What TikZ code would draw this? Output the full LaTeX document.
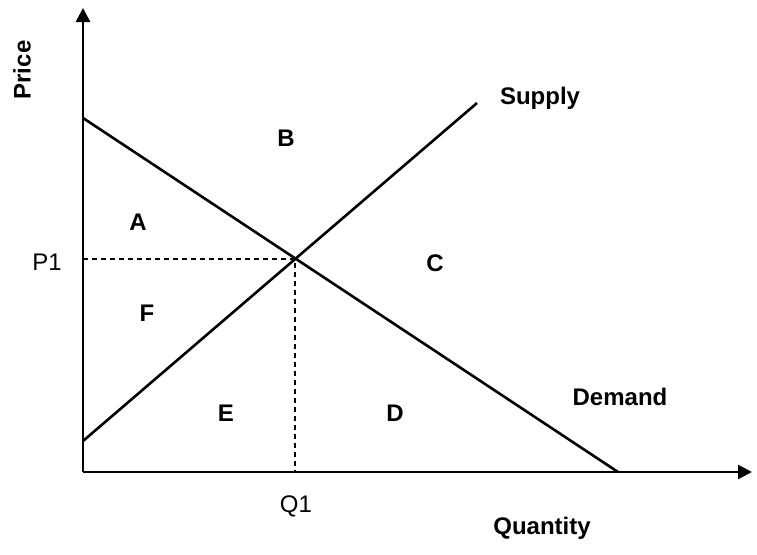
\documentclass[tikz,border=0pt]{standalone}
\usepackage{fontspec}
\setmainfont{Liberation Sans}
\usetikzlibrary{arrows.meta}
\begin{document}
\begin{tikzpicture}[x=1pt,y=-1pt,
  ln/.style={line width=2.6pt},
  ax/.style={line width=2.6pt,-{Triangle[length=14pt,width=14pt]}},
  dsh/.style={line width=1.2pt,dash pattern=on 5pt off 4pt},
  lbl/.style={font=\fontsize{24}{28}\selectfont\bfseries,inner sep=0pt},
  tk/.style={font=\fontsize{24}{28}\selectfont,inner sep=0pt}]
\useasboundingbox (0,0) rectangle (757,554);
\coordinate (O) at (83,472);
\coordinate (Ytop) at (83,8);
\coordinate (Xend) at (752,472);
\coordinate (D0) at (83,118);
\coordinate (D1) at (618,472);
\coordinate (S0) at (83,441);
\coordinate (S1) at (477,103);
\coordinate (E) at (295,259);
\coordinate (P) at (83,259);
\coordinate (Q) at (295,472);
\draw[ax] (O) -- (Ytop);
\draw[ax] (O) -- (Xend);
\draw[ln] (D0) -- (D1);
\draw[ln] (S0) -- (S1);
\draw[dsh] (P) -- (E) -- (Q);
\node[lbl,rotate=90] (price) at (22,70) {Price};
\node[lbl] (sup) at (540,98) {Supply};
\node[lbl] (dem) at (620,397) {Demand};
\node[lbl] (qty) at (542,528) {Quantity};
\node[tk] (q1) at (296,506) {Q1};
\node[tk] (p1) at (47,262) {P1};
\node[lbl] (a) at (138,222) {A};
\node[lbl] (b) at (286,138) {B};
\node[lbl] (c) at (435,263) {C};
\node[lbl] (d) at (395,413) {D};
\node[lbl] (e) at (226,413) {E};
\node[lbl] (f) at (147,313) {F};
\end{tikzpicture}
\end{document}
